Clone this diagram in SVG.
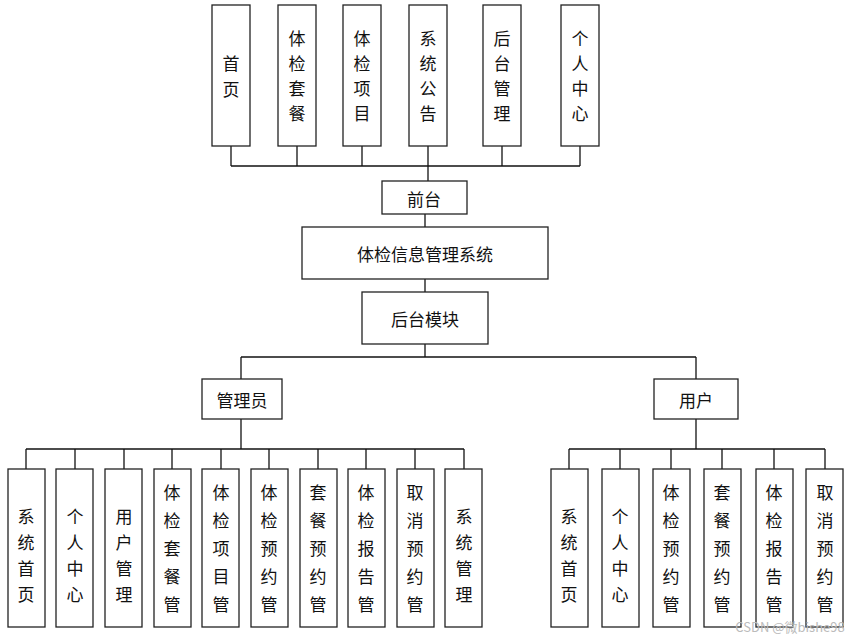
<svg xmlns="http://www.w3.org/2000/svg" width="852" height="640" viewBox="0 0 852 640">
<style>
rect{fill:#fff;stroke:#222;stroke-width:1.3}
text{font-family:"Noto Sans CJK SC",sans-serif;font-size:17px;fill:#111;text-anchor:middle;dominant-baseline:central}
.c line{stroke:#111;stroke-width:1.3}
</style>
<rect x="0" y="0" width="852" height="640" style="stroke:none"/>
<g class="c">
<line x1="231" y1="146" x2="231" y2="166"/><line x1="297" y1="146" x2="297" y2="166"/><line x1="362" y1="146" x2="362" y2="166"/><line x1="428" y1="146" x2="428" y2="181"/><line x1="502" y1="146" x2="502" y2="166"/><line x1="580" y1="146" x2="580" y2="166"/>
<line x1="231" y1="166" x2="580" y2="166"/>
<line x1="425" y1="214" x2="425" y2="227"/><line x1="425" y1="279" x2="425" y2="292"/><line x1="425" y1="344" x2="425" y2="357"/>
<line x1="241" y1="357" x2="696" y2="357"/><line x1="241" y1="357" x2="241" y2="379"/><line x1="696" y1="357" x2="696" y2="379"/>
<line x1="241" y1="419" x2="241" y2="449"/><line x1="26" y1="449" x2="464" y2="449"/>
<line x1="26" y1="449" x2="26" y2="469"/><line x1="75" y1="449" x2="75" y2="469"/><line x1="124" y1="449" x2="124" y2="469"/><line x1="172" y1="449" x2="172" y2="469"/><line x1="221" y1="449" x2="221" y2="469"/><line x1="269" y1="449" x2="269" y2="469"/><line x1="318" y1="449" x2="318" y2="469"/><line x1="366" y1="449" x2="366" y2="469"/><line x1="415" y1="449" x2="415" y2="469"/><line x1="464" y1="449" x2="464" y2="469"/>
<line x1="696" y1="419" x2="696" y2="449"/><line x1="569" y1="449" x2="825" y2="449"/>
<line x1="569" y1="449" x2="569" y2="469"/><line x1="620" y1="449" x2="620" y2="469"/><line x1="671" y1="449" x2="671" y2="469"/><line x1="722" y1="449" x2="722" y2="469"/><line x1="774" y1="449" x2="774" y2="469"/><line x1="825" y1="449" x2="825" y2="469"/>
</g>
<g id="t1"><rect x="212" y="5" width="38" height="141"/><text x="231" y="62">首</text><text x="231" y="88">页</text></g>
<g id="t2"><rect x="278" y="5" width="38" height="141"/><text x="297" y="37">体</text><text x="297" y="62">检</text><text x="297" y="87">套</text><text x="297" y="112">餐</text></g>
<g id="t3"><rect x="343" y="5" width="38" height="141"/><text x="362" y="37">体</text><text x="362" y="62">检</text><text x="362" y="87">项</text><text x="362" y="112">目</text></g>
<g id="t4"><rect x="409" y="5" width="38" height="141"/><text x="428" y="37">系</text><text x="428" y="62">统</text><text x="428" y="87">公</text><text x="428" y="112">告</text></g>
<g id="t5"><rect x="483" y="5" width="38" height="141"/><text x="502" y="37">后</text><text x="502" y="62">台</text><text x="502" y="87">管</text><text x="502" y="112">理</text></g>
<g id="t6"><rect x="561" y="5" width="38" height="141"/><text x="580" y="37">个</text><text x="580" y="62">人</text><text x="580" y="87">中</text><text x="580" y="112">心</text></g>
<g id="qt"><rect x="382" y="181" width="85" height="33"/><text x="424" y="198">前台</text></g>
<g id="sys"><rect x="302" y="227" width="246" height="52"/><text x="425" y="253">体检信息管理系统</text></g>
<g id="ht"><rect x="362" y="292" width="126" height="52"/><text x="425" y="318">后台模块</text></g>
<g id="admin"><rect x="202" y="379" width="80" height="40"/><text x="242" y="399">管理员</text></g>
<g id="user"><rect x="654" y="379" width="84" height="40"/><text x="696" y="399">用户</text></g>
<g id="a1"><rect x="8" y="469" width="37" height="158"/><text x="26" y="515">系</text><text x="26" y="541">统</text><text x="26" y="567">首</text><text x="26" y="583" dy="10">页</text></g>
<g id="a2"><rect x="56" y="469" width="37" height="158"/><text x="75" y="515">个</text><text x="75" y="541">人</text><text x="75" y="567">中</text><text x="75" y="593">心</text></g>
<g id="a3"><rect x="105" y="469" width="37" height="158"/><text x="124" y="515">用</text><text x="124" y="541">户</text><text x="124" y="567">管</text><text x="124" y="593">理</text></g>
<g id="a4"><rect x="154" y="469" width="37" height="158"/><text x="172" y="491">体</text><text x="172" y="519">检</text><text x="172" y="547">套</text><text x="172" y="575">餐</text><text x="172" y="603">管</text></g>
<g id="a5"><rect x="202" y="469" width="37" height="158"/><text x="221" y="491">体</text><text x="221" y="519">检</text><text x="221" y="547">项</text><text x="221" y="575">目</text><text x="221" y="603">管</text></g>
<g id="a6"><rect x="251" y="469" width="37" height="158"/><text x="269" y="491">体</text><text x="269" y="519">检</text><text x="269" y="547">预</text><text x="269" y="575">约</text><text x="269" y="603">管</text></g>
<g id="a7"><rect x="300" y="469" width="37" height="158"/><text x="318" y="491">套</text><text x="318" y="519">餐</text><text x="318" y="547">预</text><text x="318" y="575">约</text><text x="318" y="603">管</text></g>
<g id="a8"><rect x="348" y="469" width="37" height="158"/><text x="366" y="491">体</text><text x="366" y="519">检</text><text x="366" y="547">报</text><text x="366" y="575">告</text><text x="366" y="603">管</text></g>
<g id="a9"><rect x="397" y="469" width="37" height="158"/><text x="415" y="491">取</text><text x="415" y="519">消</text><text x="415" y="547">预</text><text x="415" y="575">约</text><text x="415" y="603">管</text></g>
<g id="a10"><rect x="445" y="469" width="37" height="158"/><text x="464" y="515">系</text><text x="464" y="541">统</text><text x="464" y="567">管</text><text x="464" y="593">理</text></g>
<g id="u1"><rect x="551" y="469" width="37" height="158"/><text x="569" y="515">系</text><text x="569" y="541">统</text><text x="569" y="567">首</text><text x="569" y="593">页</text></g>
<g id="u2"><rect x="602" y="469" width="37" height="158"/><text x="620" y="515">个</text><text x="620" y="541">人</text><text x="620" y="567">中</text><text x="620" y="593">心</text></g>
<g id="u3"><rect x="653" y="469" width="37" height="158"/><text x="671" y="491">体</text><text x="671" y="519">检</text><text x="671" y="547">预</text><text x="671" y="575">约</text><text x="671" y="603">管</text></g>
<g id="u4"><rect x="704" y="469" width="37" height="158"/><text x="722" y="491">套</text><text x="722" y="519">餐</text><text x="722" y="547">预</text><text x="722" y="575">约</text><text x="722" y="603">管</text></g>
<g id="u5"><rect x="756" y="469" width="37" height="158"/><text x="774" y="491">体</text><text x="774" y="519">检</text><text x="774" y="547">报</text><text x="774" y="575">告</text><text x="774" y="603">管</text></g>
<g id="u6"><rect x="806" y="469" width="37" height="158"/><text x="825" y="491">取</text><text x="825" y="519">消</text><text x="825" y="547">预</text><text x="825" y="575">约</text><text x="825" y="603">管</text></g>
<text x="790" y="626" style="font-size:13px;fill:#bbb">CSDN @微bishe98</text>
</svg>
